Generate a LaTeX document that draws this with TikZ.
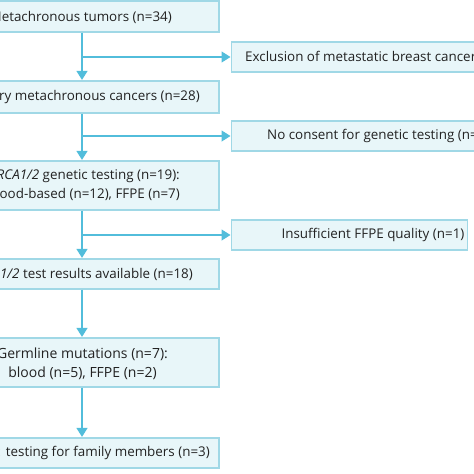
\documentclass[tikz,border=0pt]{standalone}
\usepackage{fontspec}
\setmainfont{Open Sans}
\usetikzlibrary{arrows.meta}
\definecolor{boxfill}{HTML}{E8F6F9}
\definecolor{boxline}{HTML}{A0D8E6}
\definecolor{arrowc}{HTML}{52BDDB}
\definecolor{txt}{HTML}{222222}
\begin{document}
\begin{tikzpicture}[x=1pt,y=-1pt,
  box/.style={draw=boxline, fill=boxfill, line width=1.2pt, inner sep=0pt},
  lbox/.style={box, minimum width=274pt},
  rbox/.style={box, anchor=west, minimum height=30pt},
  lbl/.style={text=txt, font=\fontsize{13.4}{19}\selectfont, inner sep=0pt},
  glbl/.style={text=txt, font=\fontsize{14.0}{19}\selectfont, inner sep=0pt},
  rlbl/.style={text=txt, font=\fontsize{13.4}{19}\selectfont, inner sep=0pt},
  arr/.style={draw=arrowc, line width=1.2pt, -{Triangle[length=9pt,width=11pt]}, shorten >=0.5pt}]
\useasboundingbox (0,0) rectangle (474,474);
\clip (0,0) rectangle (474,474);
% left column boxes
\node[lbox, minimum height=31pt] (b1) at (82,16.5) {};
\node[lbox, minimum height=32pt] (b2) at (82,97) {};
\node[lbox, minimum height=49pt] (b3) at (82,185.5) {};
\node[lbox, minimum height=30pt] (b4) at (82,274) {};
\node[lbox, minimum height=49pt] (b5) at (82,362.5) {};
\node[lbox, minimum height=30pt] (b6) at (82,453) {};
% right column boxes
\node[rbox, minimum width=310pt] (r1) at (231,57) {};
\node[rbox, minimum width=310pt] (r2) at (231,136) {};
\node[rbox, minimum width=236pt] (r3) at (231,235) {};
% texts
\node[lbl, anchor=east] (t1) at (172,17) {Metachronous tumors (n=34)};
\node[lbl, anchor=east] (t2) at (200,97) {Primary metachronous cancers (n=28)};
\node[lbl, anchor=east, align=right] (t3) at (180,185.5) {\textit{BRCA1/2} genetic testing (n=19):\\Blood-based (n=12), FFPE (n=7)};
\node[lbl, anchor=east] (t4) at (193,274) {\textit{BRCA1/2} test results available (n=18)};
\node[glbl, align=center] (t5) at (82.5,364) {Germline mutations (n=7):\\blood (n=5), FFPE (n=2)};
\node[lbl, anchor=east] (t6) at (210,453) {: testing for family members (n=3)};
\node[rlbl, anchor=west] (u1) at (245,57) {Exclusion of metastatic breast cancer (n=6)};
\node[rlbl, anchor=west] (u2) at (267,136) {No consent for genetic testing (n=9)};
\node[rlbl] (u3) at (373,235) {Insufficient FFPE quality (n=1)};
% connectors
\draw[arr] (b1) -- (b2);
\draw[arr] (b1.south |- r1.west) -- (r1.west);
\draw[arr] (b2) -- (b3);
\draw[arr] (b2.south |- r2.west) -- (r2.west);
\draw[arr] (b3) -- (b4);
\draw[arr] (b3.south |- r3.west) -- (r3.west);
\draw[arr] (b4) -- (b5);
\draw[arr] (b5) -- (b6);
\end{tikzpicture}
\end{document}
